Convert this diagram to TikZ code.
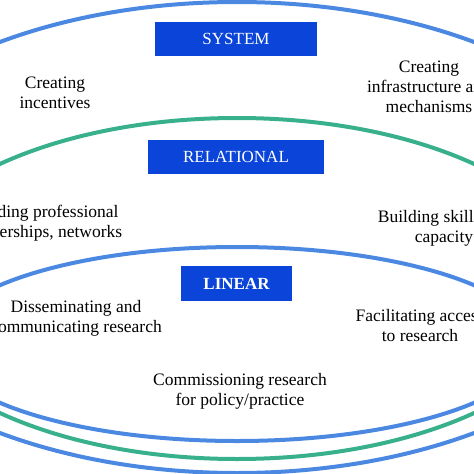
\documentclass[tikz,border=0pt]{standalone}
\usepackage{fontspec}
\setmainfont{Liberation Serif}
\definecolor{ringblue}{HTML}{4A88E2}
\definecolor{ringgreen}{HTML}{38B08C}
\definecolor{boxblue}{HTML}{0A44D8}
\tikzset{
  ringb/.style={draw=ringblue, line width=4pt},
  ringg/.style={draw=ringgreen, line width=4pt},
  levelbox/.style={fill=boxblue, text=white, inner sep=0pt, font=\fontsize{17}{20}\selectfont},
  label/.style={align=center, inner sep=0pt, font=\fontsize{17.5}{20}\selectfont}
}
\begin{document}
\begin{tikzpicture}[x=1pt,y=-1pt]
\useasboundingbox (0,0) rectangle (474,474);
\draw[ringb] (237,237.5) ellipse [x radius=425, y radius=235.5];
\draw[ringg] (237,288.5) ellipse [x radius=347, y radius=170.5];
\draw[ringb] (237,344) ellipse [x radius=298, y radius=97];

\node[levelbox, minimum width=162pt, minimum height=34pt] (system) at (236,39) {SYSTEM};
\node[levelbox, minimum width=176pt, minimum height=34pt] (relational) at (236,157) {RELATIONAL};
\node[levelbox, minimum width=111pt, minimum height=35pt, font=\fontsize{17}{20}\selectfont\bfseries] (linear) at (236.5,283.5) {LINEAR};

\node[label] (incent) at (55,93) {Creating\\incentives};
\node[label] (infra) at (429,87) {Creating\\infrastructure and\\mechanisms};
\node[label] (partner) at (43,223) {Building professional\\partnerships, networks};
\node[label] (skills) at (444,228) {Building skills and\\capacity};
\node[label] (dissem) at (76,318) {Disseminating and\\communicating research};
\node[label] (access) at (420,326) {Facilitating access\\to research};
\node[label] (commis) at (240,391) {Commissioning research\\for policy/practice};
\end{tikzpicture}
\end{document}
